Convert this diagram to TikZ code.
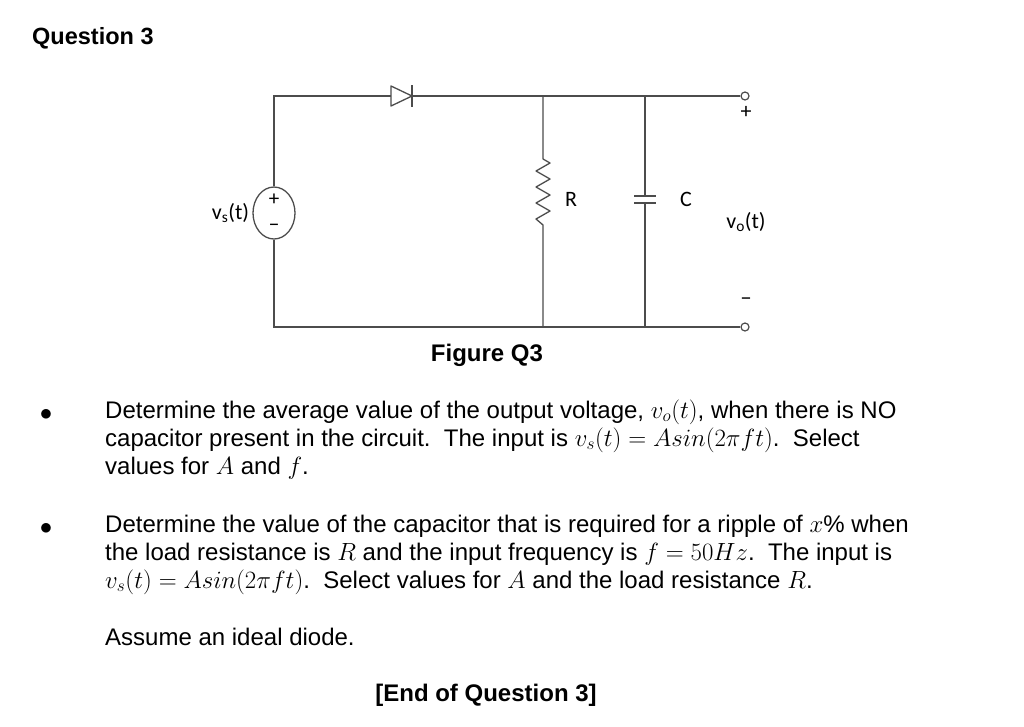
\documentclass[tikz,border=0pt]{standalone}
\usepackage{fontspec}
\setmainfont{Liberation Sans}
\newfontfamily\cali{Carlito}
\usetikzlibrary{positioning,shapes.geometric}
\tikzset{
  wire/.style={draw=black!70, line width=1.3pt},
  term/.style={circle, draw=black!70, line width=1.2pt, fill=white, inner sep=0pt, minimum size=8pt},
  lbl/.style={font=\cali\fontsize{22}{24}\selectfont, inner sep=1pt},
  txt/.style={anchor=base west, inner sep=0pt, font=\fontsize{24}{26}\selectfont},
}
\begin{document}
\begin{tikzpicture}[x=1pt,y=-1pt]
  \useasboundingbox (0,0) rectangle (1024,726);

  % Define nodes
  \node[anchor=base west, inner sep=0pt, font=\bfseries\fontsize{23.5}{26}\selectfont] (title) at (32,44) {Question 3};
  \coordinate (tl) at (274,96);
  \coordinate (bl) at (274,327);
  \coordinate (rt) at (543,96);
  \coordinate (rb) at (543,327);
  \coordinate (ct) at (645,96);
  \coordinate (cb) at (645,327);
  \node[term] (op) at (745,96) {};
  \node[term] (om) at (745,327) {};
  \node[ellipse, draw=black!70, line width=1.3pt, minimum width=42pt, minimum height=52pt, inner sep=0pt] (vs) at (274,213) {};
  \node[font=\cali\fontsize{21}{22}\selectfont, inner sep=0pt] at (274,200) {+};
  \node[font=\cali\fontsize{21}{22}\selectfont, inner sep=0pt] at (274,228) {\textminus};
  \node[lbl, left=2 of vs] (vsl) {v\textsubscript{s}(t)};
  \coordinate (da) at (391,96);
  \coordinate (dk) at (412,96);
  \node[lbl] (rl) at (571,199) {R};
  \node[lbl] (cl) at (686,199) {C};
  \node[lbl] (pl) at (746,112) {+};
  \node[lbl] (ml) at (746,302) {\textminus};
  \node[lbl] (vol) at (746,222) {v\textsubscript{o}(t)};

  % Wires
  \draw[wire] (vs.north) -- (tl) -- (da);
  \draw[wire] (dk) -- (op.west);
  \draw[wire] (vs.south) -- (bl) -- (om.west);
  \draw[wire, line join=round] (da) ++(0,-10) -- ++(0,20) -- (dk) -- cycle;
  \draw[wire] (dk) ++(0,-11) -- ++(0,22);
  \draw[wire, line join=round] (rt) -- (543,159) -- (550,163) -- (536,171) -- (550,179) -- (536,187)
     -- (550,195) -- (536,203) -- (550,211) -- (536,219) -- (543,225) -- (rb);
  \draw[wire] (ct) -- (645,196) (cb) -- (645,203);
  \draw[wire] (634,196) -- (656,196) (634,203) -- (656,203);

  \node[anchor=base, inner sep=0pt, font=\bfseries\fontsize{24}{26}\selectfont] (fig) at (487,361) {Figure Q3};

  % Questions
  \node[anchor=base, inner sep=0pt, font=\fontsize{28}{28}\selectfont] at (46,420) {$\bullet$};
  \node[txt] (q1a) at (105,418) {Determine the average value of the output voltage, $v_o(t)$, when there is NO};
  \node[txt] (q1b) at (105,446) {capacitor present in the circuit.\ \ The input is $v_s(t)=Asin(2\pi ft)$.\ \ Select};
  \node[txt] (q1c) at (105,474) {values for $A$ and $f$.};
  \node[anchor=base, inner sep=0pt, font=\fontsize{28}{28}\selectfont] at (46,534) {$\bullet$};
  \node[txt] (q2a) at (105,532) {Determine the value of the capacitor that is required for a ripple of $x\%$ when};
  \node[txt] (q2b) at (105,560) {the load resistance is $R$ and the input frequency is $f=50Hz$.\ \ The input is};
  \node[txt] (q2c) at (105,588) {$v_s(t)=Asin(2\pi ft)$.\ \ Select values for $A$ and the load resistance $R$.};
  \node[txt] (q2d) at (105,645) {Assume an ideal diode.};
  \node[anchor=base, inner sep=0pt, font=\bfseries\fontsize{24}{26}\selectfont] (end) at (486,701) {[End of Question 3]};
\end{tikzpicture}
\end{document}
